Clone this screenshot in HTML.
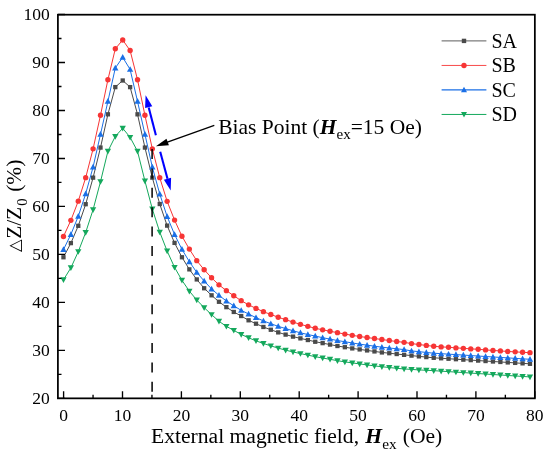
<!DOCTYPE html>
<html><head><meta charset="utf-8"><title>GMI ratio vs external magnetic field</title>
<style>
html,body{margin:0;padding:0;background:#fff;}
svg{display:block;font-family:"Liberation Serif","DejaVu Serif",serif;fill:#000;}
</style></head><body>
<svg width="550" height="457" viewBox="0 0 550 457">
<rect width="550" height="457" fill="#fff"/>
<g>
<polyline points="63.47,257.27 70.88,243.12 78.28,225.80 85.69,204.21 93.09,177.64 100.50,147.56 107.90,114.32 115.31,87.12 122.71,80.50 130.12,87.12 137.52,114.32 144.93,147.56 152.33,177.64 159.74,204.02 167.14,225.61 174.55,242.88 181.95,257.27 189.36,269.36 196.76,279.43 204.16,288.26 211.57,295.31 218.97,301.78 226.38,307.16 233.78,311.95 241.19,316.03 248.59,320.30 256.00,323.71 263.40,326.97 270.81,329.75 278.22,332.39 285.62,334.60 293.02,336.61 300.43,338.39 307.84,340.02 315.24,341.74 322.64,343.13 330.05,344.57 337.46,346.01 344.86,347.21 352.26,348.41 359.67,349.42 367.08,350.43 374.48,351.43 381.88,352.44 389.29,353.21 396.70,354.02 404.10,354.84 411.50,355.61 418.91,356.37 426.32,357.09 433.72,357.81 441.12,358.27 448.53,358.74 455.94,359.20 463.34,359.66 470.75,360.12 478.15,360.58 485.56,361.04 492.96,361.50 500.37,361.96 507.77,362.43 515.18,362.89 522.58,363.35 529.99,363.81" fill="none" stroke="#4a4a4a" stroke-width="1"/>
<rect x="61.32" y="255.12" width="4.30" height="4.30" fill="#4a4a4a"/>
<rect x="68.72" y="240.97" width="4.30" height="4.30" fill="#4a4a4a"/>
<rect x="76.13" y="223.65" width="4.30" height="4.30" fill="#4a4a4a"/>
<rect x="83.53" y="202.06" width="4.30" height="4.30" fill="#4a4a4a"/>
<rect x="90.94" y="175.49" width="4.30" height="4.30" fill="#4a4a4a"/>
<rect x="98.34" y="145.41" width="4.30" height="4.30" fill="#4a4a4a"/>
<rect x="105.75" y="112.17" width="4.30" height="4.30" fill="#4a4a4a"/>
<rect x="113.16" y="84.97" width="4.30" height="4.30" fill="#4a4a4a"/>
<rect x="120.56" y="78.35" width="4.30" height="4.30" fill="#4a4a4a"/>
<rect x="127.97" y="84.97" width="4.30" height="4.30" fill="#4a4a4a"/>
<rect x="135.37" y="112.17" width="4.30" height="4.30" fill="#4a4a4a"/>
<rect x="142.78" y="145.41" width="4.30" height="4.30" fill="#4a4a4a"/>
<rect x="150.18" y="175.49" width="4.30" height="4.30" fill="#4a4a4a"/>
<rect x="157.59" y="201.87" width="4.30" height="4.30" fill="#4a4a4a"/>
<rect x="164.99" y="223.46" width="4.30" height="4.30" fill="#4a4a4a"/>
<rect x="172.40" y="240.73" width="4.30" height="4.30" fill="#4a4a4a"/>
<rect x="179.80" y="255.12" width="4.30" height="4.30" fill="#4a4a4a"/>
<rect x="187.21" y="267.21" width="4.30" height="4.30" fill="#4a4a4a"/>
<rect x="194.61" y="277.28" width="4.30" height="4.30" fill="#4a4a4a"/>
<rect x="202.01" y="286.11" width="4.30" height="4.30" fill="#4a4a4a"/>
<rect x="209.42" y="293.16" width="4.30" height="4.30" fill="#4a4a4a"/>
<rect x="216.82" y="299.63" width="4.30" height="4.30" fill="#4a4a4a"/>
<rect x="224.23" y="305.01" width="4.30" height="4.30" fill="#4a4a4a"/>
<rect x="231.63" y="309.80" width="4.30" height="4.30" fill="#4a4a4a"/>
<rect x="239.04" y="313.88" width="4.30" height="4.30" fill="#4a4a4a"/>
<rect x="246.44" y="318.15" width="4.30" height="4.30" fill="#4a4a4a"/>
<rect x="253.85" y="321.56" width="4.30" height="4.30" fill="#4a4a4a"/>
<rect x="261.25" y="324.82" width="4.30" height="4.30" fill="#4a4a4a"/>
<rect x="268.66" y="327.60" width="4.30" height="4.30" fill="#4a4a4a"/>
<rect x="276.07" y="330.24" width="4.30" height="4.30" fill="#4a4a4a"/>
<rect x="283.47" y="332.45" width="4.30" height="4.30" fill="#4a4a4a"/>
<rect x="290.88" y="334.46" width="4.30" height="4.30" fill="#4a4a4a"/>
<rect x="298.28" y="336.24" width="4.30" height="4.30" fill="#4a4a4a"/>
<rect x="305.69" y="337.87" width="4.30" height="4.30" fill="#4a4a4a"/>
<rect x="313.09" y="339.59" width="4.30" height="4.30" fill="#4a4a4a"/>
<rect x="320.50" y="340.98" width="4.30" height="4.30" fill="#4a4a4a"/>
<rect x="327.90" y="342.42" width="4.30" height="4.30" fill="#4a4a4a"/>
<rect x="335.31" y="343.86" width="4.30" height="4.30" fill="#4a4a4a"/>
<rect x="342.71" y="345.06" width="4.30" height="4.30" fill="#4a4a4a"/>
<rect x="350.12" y="346.26" width="4.30" height="4.30" fill="#4a4a4a"/>
<rect x="357.52" y="347.27" width="4.30" height="4.30" fill="#4a4a4a"/>
<rect x="364.93" y="348.28" width="4.30" height="4.30" fill="#4a4a4a"/>
<rect x="372.33" y="349.28" width="4.30" height="4.30" fill="#4a4a4a"/>
<rect x="379.74" y="350.29" width="4.30" height="4.30" fill="#4a4a4a"/>
<rect x="387.14" y="351.06" width="4.30" height="4.30" fill="#4a4a4a"/>
<rect x="394.55" y="351.87" width="4.30" height="4.30" fill="#4a4a4a"/>
<rect x="401.95" y="352.69" width="4.30" height="4.30" fill="#4a4a4a"/>
<rect x="409.36" y="353.46" width="4.30" height="4.30" fill="#4a4a4a"/>
<rect x="416.76" y="354.22" width="4.30" height="4.30" fill="#4a4a4a"/>
<rect x="424.17" y="354.94" width="4.30" height="4.30" fill="#4a4a4a"/>
<rect x="431.57" y="355.66" width="4.30" height="4.30" fill="#4a4a4a"/>
<rect x="438.98" y="356.12" width="4.30" height="4.30" fill="#4a4a4a"/>
<rect x="446.38" y="356.59" width="4.30" height="4.30" fill="#4a4a4a"/>
<rect x="453.79" y="357.05" width="4.30" height="4.30" fill="#4a4a4a"/>
<rect x="461.19" y="357.51" width="4.30" height="4.30" fill="#4a4a4a"/>
<rect x="468.60" y="357.97" width="4.30" height="4.30" fill="#4a4a4a"/>
<rect x="476.00" y="358.43" width="4.30" height="4.30" fill="#4a4a4a"/>
<rect x="483.41" y="358.89" width="4.30" height="4.30" fill="#4a4a4a"/>
<rect x="490.81" y="359.35" width="4.30" height="4.30" fill="#4a4a4a"/>
<rect x="498.22" y="359.81" width="4.30" height="4.30" fill="#4a4a4a"/>
<rect x="505.62" y="360.28" width="4.30" height="4.30" fill="#4a4a4a"/>
<rect x="513.03" y="360.74" width="4.30" height="4.30" fill="#4a4a4a"/>
<rect x="520.43" y="361.20" width="4.30" height="4.30" fill="#4a4a4a"/>
<rect x="527.84" y="361.66" width="4.30" height="4.30" fill="#4a4a4a"/>
</g>
<g>
<polyline points="63.47,236.45 70.88,220.33 78.28,201.14 85.69,177.64 93.09,148.86 100.50,115.28 107.90,79.78 115.31,48.79 122.71,39.96 130.12,50.52 137.52,79.78 144.93,115.28 152.33,148.86 159.74,177.64 167.14,201.34 174.55,220.09 181.95,236.21 189.36,249.11 196.76,260.67 204.16,269.74 211.57,277.80 218.97,284.85 226.38,290.66 233.78,295.74 241.19,300.68 248.59,304.81 256.00,308.40 263.40,311.67 270.81,314.50 278.22,317.23 285.62,319.68 293.02,322.08 300.43,324.33 307.84,326.35 315.24,328.26 322.64,329.85 330.05,331.24 337.46,332.68 344.86,334.07 352.26,335.32 359.67,336.51 367.08,337.52 374.48,338.53 381.88,339.54 389.29,340.54 396.70,341.55 404.10,342.32 411.50,343.61 418.91,344.53 426.32,345.44 433.72,346.30 441.12,346.88 448.53,347.26 455.94,347.88 463.34,348.32 470.75,348.89 478.15,349.27 485.56,349.90 492.96,350.47 500.37,350.91 507.77,351.48 515.18,351.87 522.58,352.30 529.99,352.68" fill="none" stroke="#f73535" stroke-width="1"/>
<circle cx="63.47" cy="236.45" r="2.68" fill="#f73535"/>
<circle cx="70.88" cy="220.33" r="2.68" fill="#f73535"/>
<circle cx="78.28" cy="201.14" r="2.68" fill="#f73535"/>
<circle cx="85.69" cy="177.64" r="2.68" fill="#f73535"/>
<circle cx="93.09" cy="148.86" r="2.68" fill="#f73535"/>
<circle cx="100.50" cy="115.28" r="2.68" fill="#f73535"/>
<circle cx="107.90" cy="79.78" r="2.68" fill="#f73535"/>
<circle cx="115.31" cy="48.79" r="2.68" fill="#f73535"/>
<circle cx="122.71" cy="39.96" r="2.68" fill="#f73535"/>
<circle cx="130.12" cy="50.52" r="2.68" fill="#f73535"/>
<circle cx="137.52" cy="79.78" r="2.68" fill="#f73535"/>
<circle cx="144.93" cy="115.28" r="2.68" fill="#f73535"/>
<circle cx="152.33" cy="148.86" r="2.68" fill="#f73535"/>
<circle cx="159.74" cy="177.64" r="2.68" fill="#f73535"/>
<circle cx="167.14" cy="201.34" r="2.68" fill="#f73535"/>
<circle cx="174.55" cy="220.09" r="2.68" fill="#f73535"/>
<circle cx="181.95" cy="236.21" r="2.68" fill="#f73535"/>
<circle cx="189.36" cy="249.11" r="2.68" fill="#f73535"/>
<circle cx="196.76" cy="260.67" r="2.68" fill="#f73535"/>
<circle cx="204.16" cy="269.74" r="2.68" fill="#f73535"/>
<circle cx="211.57" cy="277.80" r="2.68" fill="#f73535"/>
<circle cx="218.97" cy="284.85" r="2.68" fill="#f73535"/>
<circle cx="226.38" cy="290.66" r="2.68" fill="#f73535"/>
<circle cx="233.78" cy="295.74" r="2.68" fill="#f73535"/>
<circle cx="241.19" cy="300.68" r="2.68" fill="#f73535"/>
<circle cx="248.59" cy="304.81" r="2.68" fill="#f73535"/>
<circle cx="256.00" cy="308.40" r="2.68" fill="#f73535"/>
<circle cx="263.40" cy="311.67" r="2.68" fill="#f73535"/>
<circle cx="270.81" cy="314.50" r="2.68" fill="#f73535"/>
<circle cx="278.22" cy="317.23" r="2.68" fill="#f73535"/>
<circle cx="285.62" cy="319.68" r="2.68" fill="#f73535"/>
<circle cx="293.02" cy="322.08" r="2.68" fill="#f73535"/>
<circle cx="300.43" cy="324.33" r="2.68" fill="#f73535"/>
<circle cx="307.84" cy="326.35" r="2.68" fill="#f73535"/>
<circle cx="315.24" cy="328.26" r="2.68" fill="#f73535"/>
<circle cx="322.64" cy="329.85" r="2.68" fill="#f73535"/>
<circle cx="330.05" cy="331.24" r="2.68" fill="#f73535"/>
<circle cx="337.46" cy="332.68" r="2.68" fill="#f73535"/>
<circle cx="344.86" cy="334.07" r="2.68" fill="#f73535"/>
<circle cx="352.26" cy="335.32" r="2.68" fill="#f73535"/>
<circle cx="359.67" cy="336.51" r="2.68" fill="#f73535"/>
<circle cx="367.08" cy="337.52" r="2.68" fill="#f73535"/>
<circle cx="374.48" cy="338.53" r="2.68" fill="#f73535"/>
<circle cx="381.88" cy="339.54" r="2.68" fill="#f73535"/>
<circle cx="389.29" cy="340.54" r="2.68" fill="#f73535"/>
<circle cx="396.70" cy="341.55" r="2.68" fill="#f73535"/>
<circle cx="404.10" cy="342.32" r="2.68" fill="#f73535"/>
<circle cx="411.50" cy="343.61" r="2.68" fill="#f73535"/>
<circle cx="418.91" cy="344.53" r="2.68" fill="#f73535"/>
<circle cx="426.32" cy="345.44" r="2.68" fill="#f73535"/>
<circle cx="433.72" cy="346.30" r="2.68" fill="#f73535"/>
<circle cx="441.12" cy="346.88" r="2.68" fill="#f73535"/>
<circle cx="448.53" cy="347.26" r="2.68" fill="#f73535"/>
<circle cx="455.94" cy="347.88" r="2.68" fill="#f73535"/>
<circle cx="463.34" cy="348.32" r="2.68" fill="#f73535"/>
<circle cx="470.75" cy="348.89" r="2.68" fill="#f73535"/>
<circle cx="478.15" cy="349.27" r="2.68" fill="#f73535"/>
<circle cx="485.56" cy="349.90" r="2.68" fill="#f73535"/>
<circle cx="492.96" cy="350.47" r="2.68" fill="#f73535"/>
<circle cx="500.37" cy="350.91" r="2.68" fill="#f73535"/>
<circle cx="507.77" cy="351.48" r="2.68" fill="#f73535"/>
<circle cx="515.18" cy="351.87" r="2.68" fill="#f73535"/>
<circle cx="522.58" cy="352.30" r="2.68" fill="#f73535"/>
<circle cx="529.99" cy="352.68" r="2.68" fill="#f73535"/>
</g>
<g>
<polyline points="63.47,249.59 70.88,234.43 78.28,216.30 85.69,193.71 93.09,167.08 100.50,134.27 107.90,101.37 115.31,67.98 122.71,57.33 130.12,69.42 137.52,101.37 144.93,134.27 152.33,167.08 159.74,193.95 167.14,216.49 174.55,234.48 181.95,249.35 189.36,261.68 196.76,272.38 204.16,281.06 211.57,288.93 218.97,295.36 226.38,300.97 233.78,305.81 241.19,310.37 248.59,313.97 256.00,317.66 263.40,320.88 270.81,323.71 278.22,326.35 285.62,328.55 293.02,330.76 300.43,332.82 307.84,334.50 315.24,336.08 322.64,337.71 330.05,339.11 337.46,340.54 344.86,341.74 352.26,342.94 359.67,344.14 367.08,345.20 374.48,346.20 381.88,347.21 389.29,347.98 396.70,348.79 404.10,349.61 411.50,350.91 418.91,351.67 426.32,352.44 433.72,353.21 441.12,353.68 448.53,354.15 455.94,354.61 463.34,355.08 470.75,355.55 478.15,356.02 485.56,356.49 492.96,356.96 500.37,357.43 507.77,357.89 515.18,358.36 522.58,358.83 529.99,359.30" fill="none" stroke="#1a6fe6" stroke-width="1"/>
<path d="M63.47 246.35L66.62 252.05L60.32 252.05Z" fill="#1a6fe6"/>
<path d="M70.88 231.19L74.03 236.89L67.72 236.89Z" fill="#1a6fe6"/>
<path d="M78.28 213.06L81.43 218.76L75.13 218.76Z" fill="#1a6fe6"/>
<path d="M85.69 190.46L88.84 196.16L82.53 196.16Z" fill="#1a6fe6"/>
<path d="M93.09 163.84L96.24 169.54L89.94 169.54Z" fill="#1a6fe6"/>
<path d="M100.50 131.03L103.65 136.73L97.34 136.73Z" fill="#1a6fe6"/>
<path d="M107.90 98.12L111.05 103.82L104.75 103.82Z" fill="#1a6fe6"/>
<path d="M115.31 64.73L118.46 70.44L112.16 70.44Z" fill="#1a6fe6"/>
<path d="M122.71 54.08L125.86 59.79L119.56 59.79Z" fill="#1a6fe6"/>
<path d="M130.12 66.17L133.27 71.87L126.97 71.87Z" fill="#1a6fe6"/>
<path d="M137.52 98.12L140.67 103.82L134.37 103.82Z" fill="#1a6fe6"/>
<path d="M144.93 131.03L148.08 136.73L141.78 136.73Z" fill="#1a6fe6"/>
<path d="M152.33 163.84L155.48 169.54L149.18 169.54Z" fill="#1a6fe6"/>
<path d="M159.74 190.70L162.89 196.40L156.59 196.40Z" fill="#1a6fe6"/>
<path d="M167.14 213.25L170.29 218.95L163.99 218.95Z" fill="#1a6fe6"/>
<path d="M174.55 231.24L177.70 236.94L171.40 236.94Z" fill="#1a6fe6"/>
<path d="M181.95 246.11L185.10 251.81L178.80 251.81Z" fill="#1a6fe6"/>
<path d="M189.36 258.44L192.51 264.14L186.21 264.14Z" fill="#1a6fe6"/>
<path d="M196.76 269.13L199.91 274.84L193.61 274.84Z" fill="#1a6fe6"/>
<path d="M204.16 277.82L207.31 283.52L201.01 283.52Z" fill="#1a6fe6"/>
<path d="M211.57 285.68L214.72 291.39L208.42 291.39Z" fill="#1a6fe6"/>
<path d="M218.97 292.11L222.12 297.81L215.82 297.81Z" fill="#1a6fe6"/>
<path d="M226.38 297.72L229.53 303.43L223.23 303.43Z" fill="#1a6fe6"/>
<path d="M233.78 302.57L236.94 308.27L230.63 308.27Z" fill="#1a6fe6"/>
<path d="M241.19 307.13L244.34 312.83L238.04 312.83Z" fill="#1a6fe6"/>
<path d="M248.59 310.72L251.75 316.43L245.44 316.43Z" fill="#1a6fe6"/>
<path d="M256.00 314.42L259.15 320.12L252.85 320.12Z" fill="#1a6fe6"/>
<path d="M263.40 317.63L266.55 323.33L260.25 323.33Z" fill="#1a6fe6"/>
<path d="M270.81 320.46L273.96 326.16L267.66 326.16Z" fill="#1a6fe6"/>
<path d="M278.22 323.10L281.37 328.80L275.07 328.80Z" fill="#1a6fe6"/>
<path d="M285.62 325.31L288.77 331.01L282.47 331.01Z" fill="#1a6fe6"/>
<path d="M293.02 327.51L296.17 333.22L289.88 333.22Z" fill="#1a6fe6"/>
<path d="M300.43 329.58L303.58 335.28L297.28 335.28Z" fill="#1a6fe6"/>
<path d="M307.84 331.26L310.99 336.96L304.69 336.96Z" fill="#1a6fe6"/>
<path d="M315.24 332.84L318.39 338.54L312.09 338.54Z" fill="#1a6fe6"/>
<path d="M322.64 334.47L325.79 340.17L319.50 340.17Z" fill="#1a6fe6"/>
<path d="M330.05 335.86L333.20 341.56L326.90 341.56Z" fill="#1a6fe6"/>
<path d="M337.46 337.30L340.61 343.00L334.31 343.00Z" fill="#1a6fe6"/>
<path d="M344.86 338.50L348.01 344.20L341.71 344.20Z" fill="#1a6fe6"/>
<path d="M352.26 339.70L355.41 345.40L349.12 345.40Z" fill="#1a6fe6"/>
<path d="M359.67 340.90L362.82 346.60L356.52 346.60Z" fill="#1a6fe6"/>
<path d="M367.08 341.95L370.23 347.65L363.93 347.65Z" fill="#1a6fe6"/>
<path d="M374.48 342.96L377.63 348.66L371.33 348.66Z" fill="#1a6fe6"/>
<path d="M381.88 343.97L385.03 349.67L378.74 349.67Z" fill="#1a6fe6"/>
<path d="M389.29 344.73L392.44 350.44L386.14 350.44Z" fill="#1a6fe6"/>
<path d="M396.70 345.55L399.85 351.25L393.55 351.25Z" fill="#1a6fe6"/>
<path d="M404.10 346.37L407.25 352.07L400.95 352.07Z" fill="#1a6fe6"/>
<path d="M411.50 347.66L414.65 353.36L408.36 353.36Z" fill="#1a6fe6"/>
<path d="M418.91 348.43L422.06 354.13L415.76 354.13Z" fill="#1a6fe6"/>
<path d="M426.32 349.20L429.47 354.90L423.17 354.90Z" fill="#1a6fe6"/>
<path d="M433.72 349.96L436.87 355.67L430.57 355.67Z" fill="#1a6fe6"/>
<path d="M441.12 350.43L444.27 356.13L437.98 356.13Z" fill="#1a6fe6"/>
<path d="M448.53 350.90L451.68 356.60L445.38 356.60Z" fill="#1a6fe6"/>
<path d="M455.94 351.37L459.09 357.07L452.79 357.07Z" fill="#1a6fe6"/>
<path d="M463.34 351.84L466.49 357.54L460.19 357.54Z" fill="#1a6fe6"/>
<path d="M470.75 352.31L473.89 358.01L467.60 358.01Z" fill="#1a6fe6"/>
<path d="M478.15 352.78L481.30 358.48L475.00 358.48Z" fill="#1a6fe6"/>
<path d="M485.56 353.24L488.71 358.95L482.41 358.95Z" fill="#1a6fe6"/>
<path d="M492.96 353.71L496.11 359.41L489.81 359.41Z" fill="#1a6fe6"/>
<path d="M500.37 354.18L503.51 359.88L497.22 359.88Z" fill="#1a6fe6"/>
<path d="M507.77 354.65L510.92 360.35L504.62 360.35Z" fill="#1a6fe6"/>
<path d="M515.18 355.12L518.33 360.82L512.03 360.82Z" fill="#1a6fe6"/>
<path d="M522.58 355.59L525.73 361.29L519.43 361.29Z" fill="#1a6fe6"/>
<path d="M529.99 356.06L533.13 361.76L526.84 361.76Z" fill="#1a6fe6"/>
</g>
<g>
<polyline points="63.47,279.81 70.88,267.82 78.28,251.61 85.69,232.42 93.09,209.63 100.50,181.62 107.90,151.25 115.31,136.38 122.71,128.23 130.12,137.34 137.52,151.25 144.93,181.00 152.33,209.06 159.74,232.08 167.14,251.03 174.55,267.34 181.95,280.29 189.36,291.14 196.76,300.01 204.16,307.64 211.57,314.59 218.97,321.31 226.38,326.35 233.78,330.37 241.19,334.40 248.59,337.81 256.00,340.83 263.40,343.47 270.81,345.87 278.22,348.12 285.62,350.14 293.02,351.96 300.43,353.59 307.84,355.13 315.24,356.66 322.64,358.05 330.05,359.30 337.46,360.69 344.86,361.89 352.26,362.90 359.67,363.91 367.08,364.91 374.48,365.92 381.88,366.74 389.29,367.50 396.70,368.32 404.10,368.94 411.50,369.42 418.91,369.90 426.32,370.29 433.72,370.67 441.12,371.15 448.53,371.63 455.94,372.11 463.34,372.59 470.75,373.07 478.15,373.55 485.56,374.03 492.96,374.51 500.37,374.99 507.77,375.47 515.18,375.95 522.58,376.43 529.99,376.91" fill="none" stroke="#14a85c" stroke-width="1"/>
<path d="M63.47 283.06L66.62 277.36L60.32 277.36Z" fill="#14a85c"/>
<path d="M70.88 271.07L74.03 265.36L67.72 265.36Z" fill="#14a85c"/>
<path d="M78.28 254.85L81.43 249.15L75.13 249.15Z" fill="#14a85c"/>
<path d="M85.69 235.66L88.84 229.96L82.53 229.96Z" fill="#14a85c"/>
<path d="M93.09 212.88L96.24 207.18L89.94 207.18Z" fill="#14a85c"/>
<path d="M100.50 184.86L103.65 179.16L97.34 179.16Z" fill="#14a85c"/>
<path d="M107.90 154.50L111.05 148.80L104.75 148.80Z" fill="#14a85c"/>
<path d="M115.31 139.63L118.46 133.93L112.16 133.93Z" fill="#14a85c"/>
<path d="M122.71 131.47L125.86 125.77L119.56 125.77Z" fill="#14a85c"/>
<path d="M130.12 140.59L133.27 134.89L126.97 134.89Z" fill="#14a85c"/>
<path d="M137.52 154.50L140.67 148.80L134.37 148.80Z" fill="#14a85c"/>
<path d="M144.93 184.24L148.08 178.54L141.78 178.54Z" fill="#14a85c"/>
<path d="M152.33 212.30L155.48 206.60L149.18 206.60Z" fill="#14a85c"/>
<path d="M159.74 235.33L162.89 229.63L156.59 229.63Z" fill="#14a85c"/>
<path d="M167.14 254.28L170.29 248.58L163.99 248.58Z" fill="#14a85c"/>
<path d="M174.55 270.59L177.70 264.88L171.40 264.88Z" fill="#14a85c"/>
<path d="M181.95 283.54L185.10 277.84L178.80 277.84Z" fill="#14a85c"/>
<path d="M189.36 294.38L192.51 288.68L186.21 288.68Z" fill="#14a85c"/>
<path d="M196.76 303.25L199.91 297.55L193.61 297.55Z" fill="#14a85c"/>
<path d="M204.16 310.88L207.31 305.18L201.01 305.18Z" fill="#14a85c"/>
<path d="M211.57 317.84L214.72 312.14L208.42 312.14Z" fill="#14a85c"/>
<path d="M218.97 324.55L222.12 318.85L215.82 318.85Z" fill="#14a85c"/>
<path d="M226.38 329.59L229.53 323.89L223.23 323.89Z" fill="#14a85c"/>
<path d="M233.78 333.62L236.94 327.92L230.63 327.92Z" fill="#14a85c"/>
<path d="M241.19 337.65L244.34 331.95L238.04 331.95Z" fill="#14a85c"/>
<path d="M248.59 341.05L251.75 335.35L245.44 335.35Z" fill="#14a85c"/>
<path d="M256.00 344.08L259.15 338.37L252.85 338.37Z" fill="#14a85c"/>
<path d="M263.40 346.71L266.55 341.01L260.25 341.01Z" fill="#14a85c"/>
<path d="M270.81 349.11L273.96 343.41L267.66 343.41Z" fill="#14a85c"/>
<path d="M278.22 351.37L281.37 345.67L275.07 345.67Z" fill="#14a85c"/>
<path d="M285.62 353.38L288.77 347.68L282.47 347.68Z" fill="#14a85c"/>
<path d="M293.02 355.21L296.17 349.50L289.88 349.50Z" fill="#14a85c"/>
<path d="M300.43 356.84L303.58 351.13L297.28 351.13Z" fill="#14a85c"/>
<path d="M307.84 358.37L310.99 352.67L304.69 352.67Z" fill="#14a85c"/>
<path d="M315.24 359.91L318.39 354.21L312.09 354.21Z" fill="#14a85c"/>
<path d="M322.64 361.30L325.79 355.60L319.50 355.60Z" fill="#14a85c"/>
<path d="M330.05 362.54L333.20 356.84L326.90 356.84Z" fill="#14a85c"/>
<path d="M337.46 363.94L340.61 358.23L334.31 358.23Z" fill="#14a85c"/>
<path d="M344.86 365.14L348.01 359.43L341.71 359.43Z" fill="#14a85c"/>
<path d="M352.26 366.14L355.41 360.44L349.12 360.44Z" fill="#14a85c"/>
<path d="M359.67 367.15L362.82 361.45L356.52 361.45Z" fill="#14a85c"/>
<path d="M367.08 368.16L370.23 362.46L363.93 362.46Z" fill="#14a85c"/>
<path d="M374.48 369.16L377.63 363.46L371.33 363.46Z" fill="#14a85c"/>
<path d="M381.88 369.98L385.03 364.28L378.74 364.28Z" fill="#14a85c"/>
<path d="M389.29 370.75L392.44 365.05L386.14 365.05Z" fill="#14a85c"/>
<path d="M396.70 371.56L399.85 365.86L393.55 365.86Z" fill="#14a85c"/>
<path d="M404.10 372.19L407.25 366.49L400.95 366.49Z" fill="#14a85c"/>
<path d="M411.50 372.67L414.65 366.97L408.36 366.97Z" fill="#14a85c"/>
<path d="M418.91 373.15L422.06 367.44L415.76 367.44Z" fill="#14a85c"/>
<path d="M426.32 373.53L429.47 367.83L423.17 367.83Z" fill="#14a85c"/>
<path d="M433.72 373.91L436.87 368.21L430.57 368.21Z" fill="#14a85c"/>
<path d="M441.12 374.39L444.27 368.69L437.98 368.69Z" fill="#14a85c"/>
<path d="M448.53 374.87L451.68 369.17L445.38 369.17Z" fill="#14a85c"/>
<path d="M455.94 375.35L459.09 369.65L452.79 369.65Z" fill="#14a85c"/>
<path d="M463.34 375.83L466.49 370.13L460.19 370.13Z" fill="#14a85c"/>
<path d="M470.75 376.31L473.89 370.61L467.60 370.61Z" fill="#14a85c"/>
<path d="M478.15 376.79L481.30 371.09L475.00 371.09Z" fill="#14a85c"/>
<path d="M485.56 377.27L488.71 371.57L482.41 371.57Z" fill="#14a85c"/>
<path d="M492.96 377.75L496.11 372.05L489.81 372.05Z" fill="#14a85c"/>
<path d="M500.37 378.23L503.51 372.53L497.22 372.53Z" fill="#14a85c"/>
<path d="M507.77 378.71L510.92 373.01L504.62 373.01Z" fill="#14a85c"/>
<path d="M515.18 379.19L518.33 373.49L512.03 373.49Z" fill="#14a85c"/>
<path d="M522.58 379.67L525.73 373.97L519.43 373.97Z" fill="#14a85c"/>
<path d="M529.99 380.15L533.13 374.45L526.84 374.45Z" fill="#14a85c"/>
</g>

<path d="M152.1 149V398.3" stroke="#000" stroke-width="1.5" stroke-dasharray="10 9.4" fill="none"/>
<path d="M214.3 125.3L166 142.6" stroke="#000" stroke-width="1.3" fill="none"/>
<path d="M155.9 146.2L166.5 138.7L168.9 145.3Z" fill="#000"/>
<path d="M155.9 135.3L148.7 107.4" stroke="#0000ff" stroke-width="2.1" fill="none"/>
<path d="M145.6 95.3L152.3 106.2L145.1 108.1Z" fill="#0000ff"/>
<path d="M160.2 151.7L167.5 178.8" stroke="#0000ff" stroke-width="2.1" fill="none"/>
<path d="M170.7 190.6L163.9 179.7L171.1 177.8Z" fill="#0000ff"/>
<text x="218.2" y="133.6" font-size="21.5">Bias Point (<tspan font-weight="bold" font-style="italic">H</tspan><tspan font-size="15" dy="5.5">ex</tspan><tspan dy="-5.5">=15 Oe)</tspan></text>

<rect x="57.90" y="14.70" width="476.95" height="383.65" fill="none" stroke="#000" stroke-width="1.75"/>
<path d="M63.60 398.35v-7.10M93.05 398.35v-3.60M122.50 398.35v-7.10M151.95 398.35v-3.60M181.40 398.35v-7.10M210.85 398.35v-3.60M240.30 398.35v-7.10M269.75 398.35v-3.60M299.20 398.35v-7.10M328.65 398.35v-3.60M358.10 398.35v-7.10M387.55 398.35v-3.60M417.00 398.35v-7.10M446.45 398.35v-3.60M475.90 398.35v-7.10M505.35 398.35v-3.60M534.80 398.35v-7.10M57.90 398.30h7.10M57.90 374.31h3.60M57.90 350.33h7.10M57.90 326.35h3.60M57.90 302.36h7.10M57.90 278.38h3.60M57.90 254.39h7.10M57.90 230.41h3.60M57.90 206.42h7.10M57.90 182.44h3.60M57.90 158.45h7.10M57.90 134.47h3.60M57.90 110.48h7.10M57.90 86.50h3.60M57.90 62.51h7.10M57.90 38.53h3.60M57.90 14.54h7.10" stroke="#000" stroke-width="1.35" fill="none"/>
<g font-size="17.5"><text x="63.60" y="420.8" text-anchor="middle">0</text><text x="122.50" y="420.8" text-anchor="middle">10</text><text x="181.40" y="420.8" text-anchor="middle">20</text><text x="240.30" y="420.8" text-anchor="middle">30</text><text x="299.20" y="420.8" text-anchor="middle">40</text><text x="358.10" y="420.8" text-anchor="middle">50</text><text x="417.00" y="420.8" text-anchor="middle">60</text><text x="475.90" y="420.8" text-anchor="middle">70</text><text x="534.80" y="420.8" text-anchor="middle">80</text><text x="49.7" y="404.20" text-anchor="end">20</text><text x="49.7" y="356.23" text-anchor="end">30</text><text x="49.7" y="308.26" text-anchor="end">40</text><text x="49.7" y="260.29" text-anchor="end">50</text><text x="49.7" y="212.32" text-anchor="end">60</text><text x="49.7" y="164.35" text-anchor="end">70</text><text x="49.7" y="116.38" text-anchor="end">80</text><text x="49.7" y="68.41" text-anchor="end">90</text><text x="49.7" y="20.44" text-anchor="end">100</text></g>
<g font-size="20"><path d="M441.6 40.90H486.4" stroke="#4a4a4a" stroke-width="0.9"/><rect x="461.80" y="38.70" width="4.40" height="4.40" fill="#4a4a4a"/><text x="491.5" y="47.70">SA</text><path d="M441.6 65.45H486.4" stroke="#f73535" stroke-width="0.9"/><circle cx="464.00" cy="65.45" r="2.70" fill="#f73535"/><text x="491.5" y="72.25">SB</text><path d="M441.6 89.95H486.4" stroke="#1a6fe6" stroke-width="1.3"/><path d="M464.00 86.86L467.00 92.29L461.00 92.29Z" fill="#1a6fe6"/><text x="491.5" y="96.75">SC</text><path d="M441.6 114.45H486.4" stroke="#14a85c" stroke-width="1.0"/><path d="M464.00 117.54L467.00 112.11L461.00 112.11Z" fill="#14a85c"/><text x="491.5" y="121.25">SD</text></g>

<text x="151" y="443" font-size="21.6">External magnetic field, <tspan font-weight="bold" font-style="italic" dx="0.9">H</tspan><tspan font-size="15.3" dy="6.2">ex</tspan><tspan dy="-6.2" dx="0.7"> (Oe)</tspan></text>
<text transform="translate(21.4 253.4) rotate(-90)" font-size="21.4"><tspan font-family="DejaVu Serif" font-size="16.4" x="1.3" dy="-1.6">△</tspan><tspan x="14.7" dy="1.6">Z/</tspan><tspan x="33.4">Z</tspan><tspan font-size="14.5" x="47.6" dy="6">0</tspan><tspan x="61.6" dy="-6">(%)</tspan></text>

</svg>
</body></html>
